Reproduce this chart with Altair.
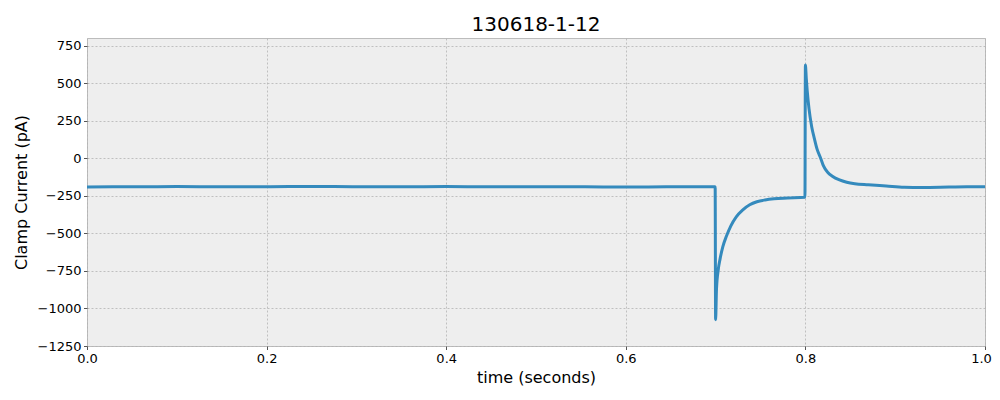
import altair as alt
import pandas as pd

# time (seconds) and clamp current (pA)
time_s = [
    0.000, 0.050, 0.100, 0.150, 0.200, 0.250, 0.300, 0.350, 0.400, 0.450,
    0.500, 0.550, 0.600, 0.650, 0.6995,
    0.7000, 0.7010, 0.7030, 0.7050, 0.7080, 0.7120, 0.7170, 0.7230, 0.7300,
    0.7380, 0.7460, 0.7550, 0.7650, 0.7800, 0.7995,
    0.8000, 0.8010, 0.8020, 0.8040, 0.8070, 0.8100, 0.8130, 0.8170, 0.8200,
    0.8250, 0.8300, 0.8380, 0.8460, 0.8550, 0.8700, 0.8900, 0.9100, 0.9300,
    0.9600, 0.9800, 1.0000,
]
current_pA = [
    -192, -190, -189, -190, -190, -188, -190, -190, -189, -190,
    -190, -190, -192, -190, -190,
    -1075, -870, -740, -670, -590, -520, -450, -390, -345,
    -310, -290, -278, -270, -265, -260,
    620, 530, 450, 330, 210, 130, 60, 0, -50,
    -95, -120, -145, -160, -170, -177, -185, -193, -195,
    -192, -190, -190,
]
x_ticks = [0.0, 0.2, 0.4, 0.6, 0.8, 1.0]
y_ticks = [-1250, -1000, -750, -500, -250, 0, 250, 500, 750]

df = pd.DataFrame({"t": time_s, "i": current_pA, "order": list(range(len(time_s)))})

FONT = "DejaVu Sans"

chart = (
    alt.Chart(df)
    .mark_line(color="#348ABD", strokeWidth=3, clip=True, interpolate="monotone")
    .encode(
        x=alt.X(
            "t:Q",
            scale=alt.Scale(domain=[0, 1], nice=False, zero=False),
            axis=alt.Axis(
                title="time (seconds)",
                values=x_ticks,
                format=".1f",
                titlePadding=4,
                labelOffset={"condition": {"test": "datum.value == 1", "value": -4}, "value": 0},
            ),
        ),
        y=alt.Y(
            "i:Q",
            scale=alt.Scale(domain=[-1250, 800], nice=False, zero=False),
            axis=alt.Axis(
                title="Clamp Current (pA)",
                values=y_ticks,
                format="d",
                titlePadding=8,
            ),
        ),
        order="order:Q",
    )
    .properties(
        width=898,
        height=308,
        title=alt.Title("130618-1-12", fontSize=20, font=FONT, fontWeight="normal", offset=3),
        autosize=alt.AutoSizeParams(type="none"),
        padding={"left": 79, "top": 30, "right": 7, "bottom": 46},
    )
    .configure_view(fill="#eeeeee", stroke="#bcbcbc", strokeWidth=1)
    .configure_axis(
        grid=True,
        gridColor="#b2b2b2",
        gridDash=[2, 2],
        gridWidth=0.8,
        domain=False,
        tickColor="#555555",
        tickSize=3.5,
        labelPadding=2.5,
        labelFont=FONT,
        labelFontSize=13,
        labelColor="#000000",
        titleFont=FONT,
        titleFontSize=16,
        titleFontWeight="normal",
        titleColor="#000000",
        labelFlush=False,
        labelOverlap=False,
    )
)

chart.save("out.html", embed_options={"renderer": "svg", "actions": False})
